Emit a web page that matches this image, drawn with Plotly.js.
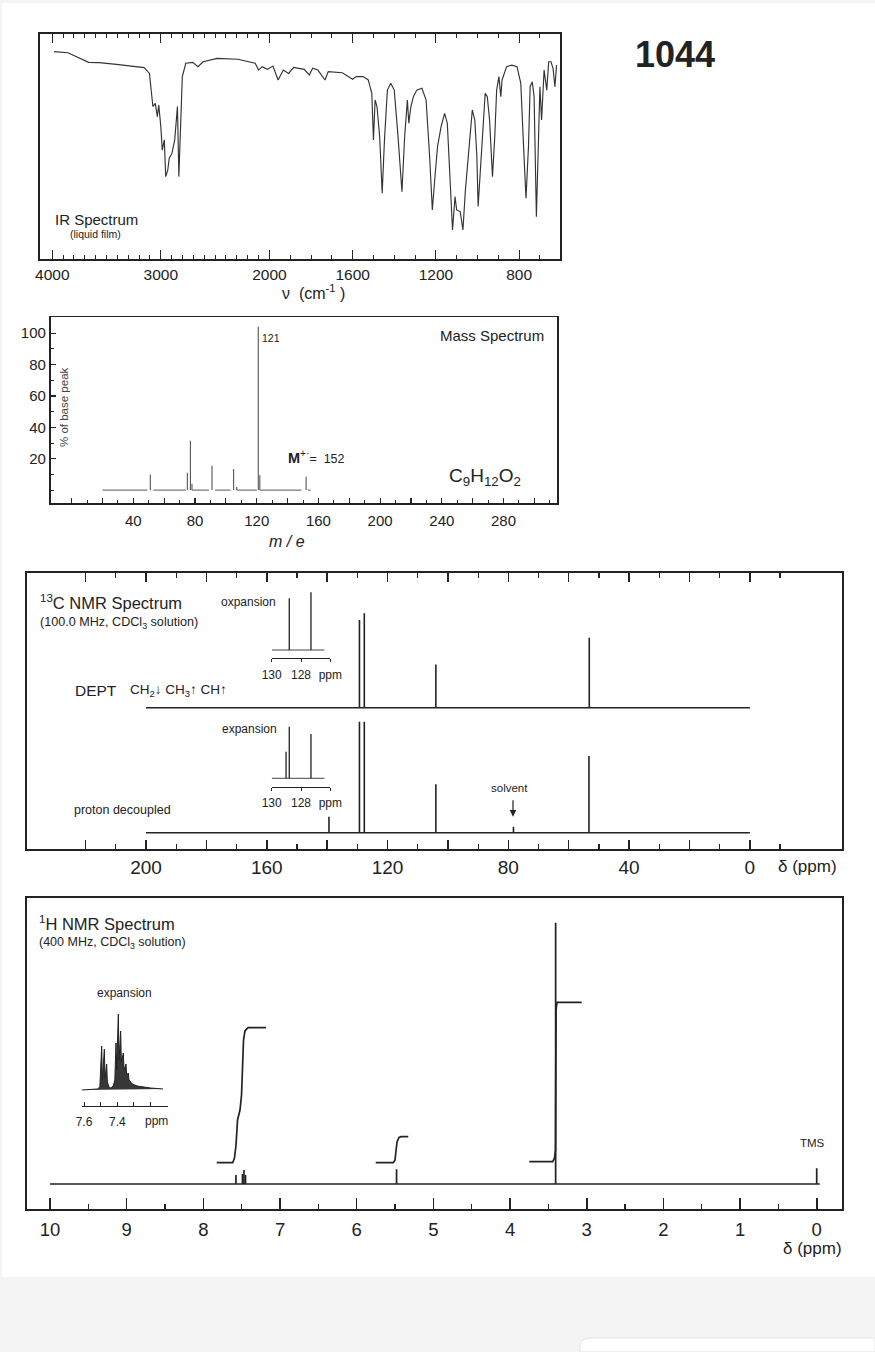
<!DOCTYPE html>
<html><head><meta charset="utf-8">
<script src="https://cdn.plot.ly/plotly-3.0.1.min.js"></script>
<style>html,body{margin:0;padding:0;background:#f4f4f4;}#chart{width:875px;height:1352px;}</style>
</head><body><div id="chart"></div>
<script>
// ---------------- DATA ----------------
// IR spectrum: wavenumber (cm-1) and % transmittance
const irWave = [3984,3856,3665,3569,3409,3153,3105,3089,3073,3051,3032,3019,3000,2987,2968,2955,2936,2923,2898,2872,2859,2847,2834,2818,2802,2770,2706,2658,2610,2482,2291,2131,2099,2067,2019,1983,1958,1933,1908,1883,1833,1808,1792,1767,1733,1717,1650,1600,1583,1550,1525,1508,1500,1492,1483,1470,1458,1447,1433,1417,1400,1383,1363,1350,1337,1330,1320,1308,1292,1267,1247,1230,1217,1203,1192,1175,1158,1145,1133,1120,1108,1100,1083,1070,1058,1047,1037,1025,1013,1003,997,987,975,963,953,942,928,917,908,897,888,882,860,835,810,792,780,767,755,747,737,728,717,708,700,692,680,667,658,647,637,628,620];
const irT = [92.2,91.7,87.4,87.3,86.5,85.1,82.5,74.4,67.8,69.2,63.3,68.5,58.9,48.5,53.0,36.7,39.6,44.8,47.0,53.0,63.3,67.8,36.7,63.3,81.1,87.0,87.4,85.5,87.7,89.2,88.8,87.0,84.0,85.5,84.3,85.8,79.6,84.0,82.5,85.2,84.3,81.8,84.8,84.0,79.6,83.3,82.8,79.9,81.1,81.1,79.6,73.7,53.0,70.7,67.8,54.4,29.3,53.0,75.1,78.1,75.1,55.9,30.0,54.4,70.7,60.4,67.8,72.2,75.1,75.9,70.7,45.6,21.9,38.2,50.0,58.9,64.8,60.4,35.2,13.0,27.8,21.9,21.2,13.0,30.8,42.6,54.4,66.3,61.8,45.6,23.4,39.6,57.4,73.7,72.2,61.8,36.7,54.4,75.1,81.1,72.2,79.6,85.5,86.2,85.5,78.1,53.0,27.1,50.0,76.6,78.8,72.2,18.9,53.0,76.6,61.8,84.0,75.1,87.7,87.7,84.8,76.6,86.2];
const irTickLabels = [4000,3000,2000,1600,1200,800];

// Mass spectrum
const msMz  = [51, 75, 77, 78, 91, 105, 107, 121, 122, 152];
const msInt = [10, 11, 31.5, 4, 15.5, 13.5, 2, 104, 9.5, 8.5];
const msBaseFrom = [20, 53, 78, 93, 107, 122, 153];
const msBaseTo   = [49, 74, 89, 103, 120, 149, 155];
const msTickLabels = [40, 80, 120, 160, 200, 240, 280];
const msYLabels = [20, 40, 60, 80, 100];

// 13C NMR
const deptPpm = [129.3, 127.7, 104.0, 53.2];
const deptH   = [87.7, 94.4, 43.3, 70];
const decPpm  = [139.4, 129.3, 127.7, 104.0, 78.3, 53.3];
const decH    = [16, 111, 111, 48.4, 6, 76.7];
const deptInsetPpm = [128.8, 127.32];
const deptInsetH   = [51.7, 57.7];
const decInsetPpm  = [129.02, 128.8, 127.32];
const decInsetH    = [26.6, 51.6, 44.3];
const c13TickLabels = [200, 160, 120, 80, 40, 0];
const c13InsetTicks = [130, 128, 126];
const c13InsetText  = ['130', '128', 'ppm'];
const c13Window = [200, 0];

// 1H NMR
const hPpm = [7.575, 7.49, 7.47, 7.45, 5.48, 3.405, 0.0];
const hH   = [9, 10, 14, 9, 14.7, 261.3, 15.7];
const intArPpm = [7.826,7.617,7.594,7.574,7.554,7.522,7.502,7.489,7.476,7.457,7.418,7.183];
const intArH   = [21.3,21.3,26,39,64,74,89,124,144,153,156.3,156.3];
const intChPpm = [5.752,5.522,5.500,5.487,5.474,5.448,5.422,5.327];
const intChH   = [21.3,21.3,24,34,42,46.5,47.3,47.3];
const intMePpm = [3.749,3.443,3.420,3.407,3.400,3.387,3.065];
const intMeH   = [22.3,22.3,26,34,174,181.7,181.7];
const hInsetPpm = [7.614,7.52,7.505,7.497,7.494,7.490,7.482,7.478,7.474,7.466,7.464,7.460,7.45,7.44,7.425,7.415,7.410,7.408,7.404,7.397,7.394,7.390,7.383,7.380,7.376,7.367,7.364,7.360,7.351,7.348,7.344,7.337,7.334,7.33,7.31,7.28,7.2,7.125];
const hInsetH   = [0,1,3,40,44,10,38,41,12,24,26,8,3,2,4,10,44,47,20,70,76,30,55,59,28,35,37,20,24,26,15,16,17,10,6,4,2,1];
const hInsetLabels = [7.6, 7.4];
const hInsetOther  = [7.5, 7.3, 7.2, 7.1];
const hWindow = [10, -0.04];

// ---------------- HELPERS ----------------
const W = 875, H = 1352;
const FONT = 'Liberation Sans, Arial, Helvetica, sans-serif';
const INK = '#222';
const px = v => v / W;
const py = v => 1 - v / H;
function irPos(w){ return w >= 2000 ? (4000 - w) : 2000 + (2000 - w) * 1.917; }
function spikes(xs, hs, base){
  const x = [], y = [];
  xs.forEach((v, i) => { x.push(v, v, null); y.push(base, base + hs[i], null); });
  return {x, y};
}
function offset(arr, base){ return arr.map(v => v + base); }
function line(x, y, xa, ya, color, width, extra){
  return Object.assign({x: x, y: y, xaxis: xa, yaxis: ya, mode: 'lines',
    line: {color: color, width: width}, hoverinfo: 'skip'}, extra || {});
}

const traces = [];
// IR
traces.push(line(irWave.map(irPos), irT, 'x', 'y', '#333', 1.15));
// Mass
const msS = spikes(msMz, msInt, 0);
traces.push(line(msS.x, msS.y, 'x2', 'y2', '#555', 1.1));
const mbx = [], mby = [];
msBaseFrom.forEach((f, i) => { mbx.push(f, msBaseTo[i], null); mby.push(0, 0, null); });
traces.push(line(mbx, mby, 'x2', 'y2', '#555', 1));
// 13C main
const DEPT_BASE = 141.6, DEC_BASE = 16.6;
traces.push(line(c13Window, [DEPT_BASE, DEPT_BASE], 'x3', 'y3', INK, 1.4));
traces.push(line(c13Window, [DEC_BASE, DEC_BASE], 'x3', 'y3', INK, 1.4));
const dS = spikes(deptPpm, deptH, DEPT_BASE);
traces.push(line(dS.x, dS.y, 'x3', 'y3', INK, 1.6));
const cS = spikes(decPpm, decH, DEC_BASE);
traces.push(line(cS.x, cS.y, 'x3', 'y3', INK, 1.6));
// 13C insets
const INS_B4 = 8.3, INS_B5 = 8.4;
traces.push(line([130, 126.4], [INS_B4, INS_B4], 'x4', 'y4', '#444', 1));
const i4 = spikes(deptInsetPpm, deptInsetH, INS_B4);
traces.push(line(i4.x, i4.y, 'x4', 'y4', INK, 1.3));
traces.push(line([130, 126.4], [INS_B5, INS_B5], 'x5', 'y5', '#444', 1));
const i5 = spikes(decInsetPpm, decInsetH, INS_B5);
traces.push(line(i5.x, i5.y, 'x5', 'y5', INK, 1.3));
// 1H main
const H_BASE = 25.3;
traces.push(line(hWindow, [H_BASE, H_BASE], 'x6', 'y6', INK, 1.5));
const hS = spikes(hPpm, hH, H_BASE);
traces.push(line(hS.x, hS.y, 'x6', 'y6', INK, 1.7));
[[intArPpm, intArH], [intChPpm, intChH], [intMePpm, intMeH]].forEach(p => {
  traces.push(line(p[0], offset(p[1], H_BASE), 'x6', 'y6', INK, 1.7));
});
// 1H inset
const INS_B7 = 16;
traces.push(line(hInsetPpm, offset(hInsetH, INS_B7), 'x7', 'y7', INK, 1,
  {fill: 'toself', fillcolor: 'rgba(20,20,20,0.85)'}));
// empty traces so the tick-only overlay axes get drawn
traces.push(line([], [], 'x8', 'y3', INK, 1));
traces.push(line([], [], 'x9', 'y2', INK, 1));
traces.push(line([], [], 'x10', 'y7', INK, 1));

// ---------------- AXES ----------------
const baseAx = {showgrid: false, zeroline: false, fixedrange: true, linecolor: INK, tickcolor: INK};
const irMinor = [];
for (let w = 3900; w >= 700; w -= 100) if (!irTickLabels.includes(w)) irMinor.push(irPos(w));

const msOther = [], msMinor = [];
for (let m = 0; m <= 300; m += 20) if (!msTickLabels.includes(m)) msOther.push(m);
for (let m = 10; m <= 310; m += 20) msMinor.push(m);

const cOther = [], cMinor = [];
for (let v = 220; v >= 0; v -= 20) if (!c13TickLabels.includes(v)) cOther.push(v);
for (let v = 210; v >= -10; v -= 20) cMinor.push(v);

const hMajor = [], hMinor = [];
for (let v = 0; v <= 10; v++) hMajor.push(v);
for (let v = 0.5; v < 10; v += 1) hMinor.push(v);

const layout = {
  width: W, height: H, margin: {l: 0, r: 0, t: 0, b: 0},
  paper_bgcolor: '#f4f4f4', plot_bgcolor: 'rgba(0,0,0,0)',
  showlegend: false, font: {family: FONT, color: INK},
  xaxis: Object.assign({}, baseAx, {domain: [px(40), px(560)], anchor: 'y', range: [-113, 4677],
    showline: true, linewidth: 1.8, mirror: 'allticks', ticks: 'inside', ticklen: 9, tickwidth: 1.2,
    tickmode: 'array', tickvals: irTickLabels.map(irPos), ticktext: irTickLabels.map(String),
    tickfont: {size: 15.5, family: FONT, color: INK}, ticklabelstandoff: 0,
    minor: {tickmode: 'array', tickvals: irMinor, ticks: 'inside', ticklen: 4, tickwidth: 1, tickcolor: INK}}),
  yaxis: Object.assign({}, baseAx, {domain: [py(259.3), py(34)], anchor: 'x', range: [0, 100],
    showline: true, linewidth: 1.8, mirror: true, ticks: '', showticklabels: false}),

  xaxis2: Object.assign({}, baseAx, {domain: [px(50.7), px(557)], anchor: 'y2', range: [-13.6, 314.7],
    showline: true, linewidth: 1.8, mirror: true, ticks: 'inside', ticklen: 5, tickwidth: 1.2,
    tickmode: 'array', tickvals: msTickLabels, ticktext: msTickLabels.map(String),
    tickfont: {size: 15, family: FONT, color: INK}, ticklabelstandoff: 3,
    minor: {tickmode: 'array', tickvals: msMinor, ticks: 'inside', ticklen: 3, tickwidth: 1, tickcolor: INK}}),
  xaxis9: Object.assign({}, baseAx, {overlaying: 'x2', anchor: 'y2', range: [-13.6, 314.7],
    showline: false, ticks: 'inside', ticklen: 5, tickwidth: 1.2, tickmode: 'array', tickvals: msOther,
    showticklabels: false}),
  yaxis2: Object.assign({}, baseAx, {domain: [py(503.3), py(317.3)], anchor: 'x2', range: [-8.4, 110.1],
    showline: true, linewidth: 1.8, mirror: true, ticks: 'inside', ticklen: 5, tickwidth: 1.2,
    tickmode: 'array', tickvals: msYLabels, ticktext: msYLabels.map(String),
    tickfont: {size: 15, family: FONT, color: INK},
    minor: {tickmode: 'array', tickvals: [0, 10, 30, 50, 70, 90], ticks: 'inside', ticklen: 3, tickwidth: 1, tickcolor: INK}}),

  xaxis3: Object.assign({}, baseAx, {domain: [px(26.7), px(841.7)], anchor: 'y3', range: [239.5, -30.4],
    showline: true, linewidth: 2, mirror: 'allticks', ticks: 'inside', ticklen: 9, tickwidth: 1.5,
    tickmode: 'array', tickvals: c13TickLabels, ticktext: c13TickLabels.map(String),
    tickfont: {size: 19, family: FONT, color: INK}, ticklabelstandoff: 0,
    minor: {tickmode: 'array', tickvals: cMinor, ticks: 'inside', ticklen: 5, tickwidth: 1.2, tickcolor: INK}}),
  xaxis8: Object.assign({}, baseAx, {overlaying: 'x3', anchor: 'y3', range: [239.5, -30.4],
    showline: false, mirror: 'allticks', ticks: 'inside', ticklen: 9, tickwidth: 1.5,
    tickmode: 'array', tickvals: cOther, showticklabels: false}),
  yaxis3: Object.assign({}, baseAx, {domain: [py(849.3), py(573.3)], anchor: 'x3', range: [0, 276],
    showline: true, linewidth: 2, mirror: true, ticks: '', showticklabels: false}),

  xaxis4: Object.assign({}, baseAx, {domain: [px(271.7), px(330.3)], anchor: 'y4', range: [130, 126],
    showline: true, linewidth: 1, ticks: 'outside', ticklen: 3, tickwidth: 1,
    tickmode: 'array', tickvals: c13InsetTicks, ticktext: c13InsetText,
    tickfont: {size: 12, family: FONT, color: INK}, ticklabelstandoff: 2}),
  yaxis4: Object.assign({}, baseAx, {domain: [py(658.3), py(588)], anchor: 'x4', range: [0, 70.3], visible: false}),
  xaxis5: Object.assign({}, baseAx, {domain: [px(271.7), px(330.3)], anchor: 'y5', range: [130, 126],
    showline: true, linewidth: 1, ticks: 'outside', ticklen: 3, tickwidth: 1,
    tickmode: 'array', tickvals: c13InsetTicks, ticktext: c13InsetText,
    tickfont: {size: 12, family: FONT, color: INK}, ticklabelstandoff: 2}),
  yaxis5: Object.assign({}, baseAx, {domain: [py(786.7), py(716)], anchor: 'x5', range: [0, 70.7], visible: false}),

  xaxis6: Object.assign({}, baseAx, {domain: [px(26.7), px(841.7)], anchor: 'y6', range: [10.304, -0.326],
    showline: true, linewidth: 2, mirror: true, ticks: 'inside', ticklen: 11, tickwidth: 1.6,
    tickmode: 'array', tickvals: hMajor, ticktext: hMajor.map(String),
    tickfont: {size: 18.5, family: FONT, color: INK}, ticklabelstandoff: 2,
    minor: {tickmode: 'array', tickvals: hMinor, ticks: 'inside', ticklen: 5, tickwidth: 1.4, tickcolor: INK}}),
  yaxis6: Object.assign({}, baseAx, {domain: [py(1209.3), py(898.3)], anchor: 'x6', range: [0, 311],
    showline: true, linewidth: 2, mirror: true, ticks: '', showticklabels: false}),

  xaxis7: Object.assign({}, baseAx, {domain: [px(81.7), px(168.3)], anchor: 'y7', range: [7.614, 7.094],
    showline: true, linewidth: 1.2, ticks: 'inside', ticklen: 4, tickwidth: 1,
    tickmode: 'array', tickvals: hInsetLabels, ticktext: hInsetLabels.map(v => v.toFixed(1)),
    tickfont: {size: 12, family: FONT, color: INK}, ticklabelstandoff: 4}),
  xaxis10: Object.assign({}, baseAx, {overlaying: 'x7', anchor: 'y7', range: [7.614, 7.094],
    showline: false, ticks: 'inside', ticklen: 4, tickwidth: 1, tickmode: 'array', tickvals: hInsetOther,
    showticklabels: false}),
  yaxis7: Object.assign({}, baseAx, {domain: [py(1106), py(1000)], anchor: 'x7', range: [0, 106], visible: false}),

  shapes: [
    {type: 'rect', xref: 'paper', yref: 'paper', x0: px(2), x1: 1, y0: py(1277), y1: py(3),
      fillcolor: '#ffffff', line: {width: 0}, layer: 'below'},
    {type: 'path', xref: 'paper', yref: 'paper', layer: 'below',
      path: `M ${px(580)} ${py(1352)} L ${px(580)} ${py(1346)} Q ${px(580)} ${py(1338)} ${px(592)} ${py(1338)} L 1 ${py(1338)} L 1 ${py(1352)} Z`,
      fillcolor: '#ffffff', line: {color: '#e4e4e4', width: 1}}
  ],
  annotations: []
};

function ann(text, x, y, size, o){
  layout.annotations.push(Object.assign({text: text, xref: 'paper', yref: 'paper', x: px(x), y: py(y),
    showarrow: false, xanchor: 'center', yanchor: 'middle',
    font: {family: FONT, size: size, color: INK}}, o || {}));
}
ann('<b>1044</b>', 675, 55, 36);
ann('IR Spectrum', 53, 219, 15, {xanchor: 'left'});
ann('(liquid film)', 68, 234, 10.5, {xanchor: 'left'});
ann('ν  (cm<sup>-1</sup> )', 313, 292, 16);
ann('121', 260, 338, 10.5, {xanchor: 'left'});
ann('Mass Spectrum', 546, 336, 15, {xanchor: 'right'});
ann('<b>M</b><sup>+·</sup><span style="font-size:12.5px">=  152</span>', 286, 457, 14.5, {xanchor: 'left'});
ann('C<sub>9</sub>H<sub>12</sub>O<sub>2</sub>', 485, 477, 19);
ann('% of base peak', 64, 407, 11.5, {textangle: -90, font: {family: FONT, size: 11.5, color: '#444'}});
ann('<i>m / e</i>', 287, 541, 16);
ann('<sup>13</sup>C NMR Spectrum', 38, 602, 16.5, {xanchor: 'left'});
ann('(100.0 MHz, CDCl<sub>3</sub> solution)', 38, 623, 12.6, {xanchor: 'left'});
ann('oxpansion', 248, 602, 12);
ann('DEPT', 73, 690, 15.5, {xanchor: 'left'});
ann('CH<sub>2</sub>↓ CH<sub>3</sub>↑ CH↑', 128, 690, 13.5, {xanchor: 'left'});
ann('expansion', 249, 729, 12);
ann('proton decoupled', 72, 810, 12.5, {xanchor: 'left'});
ann('solvent', 509, 788, 11.5);
layout.annotations.push({text: '', xref: 'paper', yref: 'paper', x: px(513), y: py(816.7),
  axref: 'pixel', ayref: 'pixel', ax: 0, ay: -18, showarrow: true, arrowhead: 2, arrowsize: 1.1,
  arrowwidth: 1.2, arrowcolor: INK});
ann('δ (ppm)', 807, 866, 17);
ann('<sup>1</sup>H NMR Spectrum', 37, 923, 16.5, {xanchor: 'left'});
ann('(400 MHz, CDCl<sub>3</sub> solution)', 37, 943, 12.5, {xanchor: 'left'});
ann('expansion', 124, 993, 12);
ann('ppm', 156.7, 1120.7, 12);
ann('TMS', 812, 1143, 11.5);
ann('δ (ppm)', 812, 1248, 17);

Plotly.newPlot('chart', traces, layout, {staticPlot: true, displayModeBar: false});
</script></body></html>
